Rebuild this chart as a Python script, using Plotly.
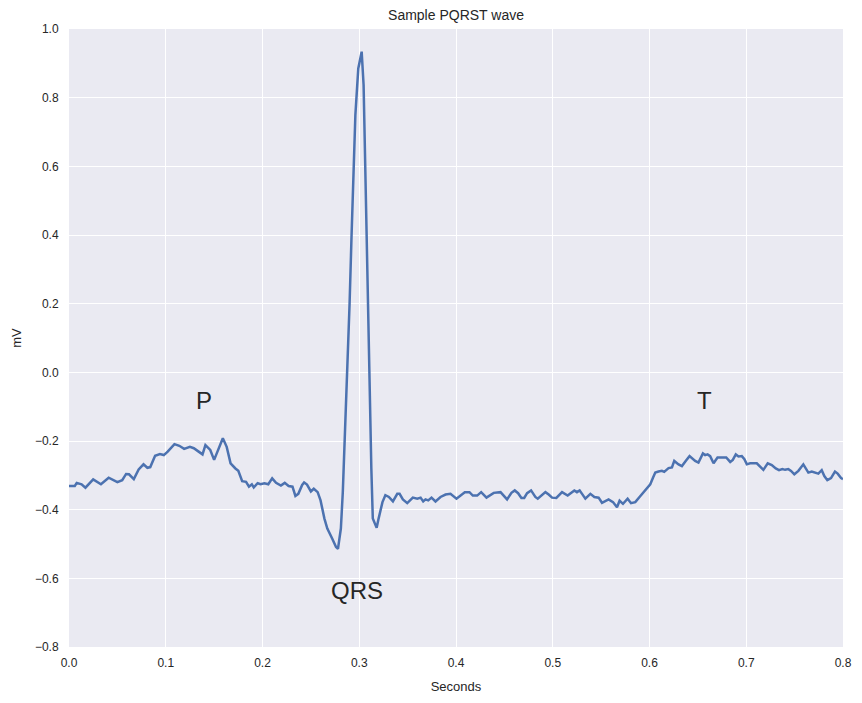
import plotly.graph_objects as go

# time (s) and voltage (mV)
seconds = [
    0.000, 0.006, 0.008, 0.013, 0.017, 0.025, 0.033, 0.041, 0.050, 0.055,
    0.059, 0.062, 0.067, 0.072, 0.077, 0.081, 0.084, 0.089, 0.094, 0.098,
    0.102, 0.109, 0.114, 0.119, 0.125, 0.129, 0.134, 0.138, 0.141, 0.146,
    0.150, 0.155, 0.159, 0.163, 0.167, 0.172, 0.175, 0.179, 0.183, 0.186,
    0.189, 0.191, 0.195, 0.198, 0.202, 0.206, 0.210, 0.214, 0.219, 0.223,
    0.227, 0.231, 0.234, 0.237, 0.241, 0.243, 0.246, 0.250, 0.253, 0.257,
    0.260, 0.264, 0.267, 0.272, 0.276, 0.278, 0.281, 0.283, 0.2877, 0.290,
    0.292, 0.2945, 0.296, 0.299, 0.3025, 0.3045, 0.306, 0.308, 0.310, 0.3125,
    0.314, 0.318, 0.320, 0.324, 0.327, 0.3306, 0.3348, 0.3393, 0.3417, 0.3451,
    0.3496, 0.3554, 0.360, 0.3634, 0.3661, 0.3685, 0.3713, 0.3747, 0.3788, 0.384,
    0.3892, 0.3943, 0.4005, 0.4046, 0.4091, 0.4139, 0.4174, 0.4219, 0.426, 0.4315,
    0.439, 0.446, 0.4528, 0.4573, 0.4607, 0.4642, 0.4676, 0.4705, 0.4735, 0.4776,
    0.482, 0.4845, 0.488, 0.4924, 0.4958, 0.4993, 0.5037, 0.5096, 0.5154, 0.5223,
    0.525, 0.5278, 0.5303, 0.5337, 0.5389, 0.543, 0.5474, 0.5509, 0.5577, 0.5623,
    0.5664, 0.5691, 0.5726, 0.5774, 0.5809, 0.5853, 0.5897, 0.5939, 0.5974, 0.6008,
    0.6036, 0.606, 0.6093, 0.6128, 0.6152, 0.6173, 0.6197, 0.6232, 0.6256, 0.630,
    0.6335, 0.638, 0.6414, 0.6472, 0.6506, 0.6552, 0.6575, 0.660, 0.6627, 0.6662,
    0.6703, 0.6748, 0.6793, 0.6834, 0.6861, 0.6892, 0.692, 0.6954, 0.6981, 0.7006,
    0.704, 0.7109, 0.7143, 0.7177, 0.7222, 0.7264, 0.7305, 0.7339, 0.7373, 0.7401,
    0.7435, 0.7463, 0.7497, 0.7539, 0.759, 0.7642, 0.7677, 0.7711, 0.7745, 0.778,
    0.7807, 0.7838, 0.7876, 0.7917, 0.7945, 0.798, 0.800,
]
mv = [
    -0.331, -0.331, -0.322, -0.326, -0.336, -0.312, -0.326, -0.307, -0.320, -0.314,
    -0.296, -0.297, -0.311, -0.283, -0.268, -0.278, -0.276, -0.243, -0.238, -0.241,
    -0.231, -0.209, -0.214, -0.223, -0.217, -0.221, -0.231, -0.239, -0.212, -0.226,
    -0.255, -0.221, -0.192, -0.217, -0.265, -0.280, -0.287, -0.317, -0.319, -0.333,
    -0.326, -0.335, -0.323, -0.326, -0.323, -0.326, -0.309, -0.322, -0.330, -0.322,
    -0.331, -0.333, -0.360, -0.354, -0.328, -0.321, -0.327, -0.347, -0.339, -0.349,
    -0.373, -0.426, -0.455, -0.484, -0.509, -0.514, -0.455, -0.349, 0.000, 0.200,
    0.394, 0.587, 0.750, 0.885, 0.934, 0.837, 0.606, 0.317, 0.027, -0.280,
    -0.426, -0.453, -0.426, -0.378, -0.358, -0.363, -0.376, -0.354, -0.354, -0.370,
    -0.381, -0.365, -0.368, -0.365, -0.376, -0.370, -0.373, -0.365, -0.376, -0.363,
    -0.356, -0.354, -0.368, -0.359, -0.349, -0.349, -0.359, -0.359, -0.349, -0.365,
    -0.351, -0.349, -0.370, -0.351, -0.344, -0.352, -0.366, -0.366, -0.352, -0.344,
    -0.363, -0.368, -0.360, -0.349, -0.356, -0.365, -0.366, -0.349, -0.359, -0.344,
    -0.349, -0.344, -0.354, -0.368, -0.354, -0.363, -0.365, -0.380, -0.370, -0.378,
    -0.393, -0.374, -0.383, -0.368, -0.381, -0.378, -0.363, -0.349, -0.335, -0.326,
    -0.307, -0.292, -0.289, -0.287, -0.290, -0.284, -0.279, -0.277, -0.258, -0.268,
    -0.273, -0.256, -0.244, -0.258, -0.263, -0.236, -0.241, -0.239, -0.244, -0.265,
    -0.248, -0.248, -0.248, -0.261, -0.255, -0.239, -0.245, -0.244, -0.253, -0.268,
    -0.265, -0.265, -0.275, -0.284, -0.265, -0.270, -0.280, -0.285, -0.282, -0.284,
    -0.282, -0.287, -0.297, -0.287, -0.268, -0.292, -0.289, -0.292, -0.295, -0.285,
    -0.302, -0.314, -0.308, -0.289, -0.295, -0.308, -0.311,
]

wave_labels = ["P", "QRS", "T"]
label_x = [0.1393, 0.298, 0.657]
label_y = [-0.082, -0.634, -0.082]

fig = go.Figure()
fig.add_trace(go.Scatter(
    x=seconds,
    y=mv,
    mode="lines",
    line=dict(color="#4C72B0", width=2.5),
    showlegend=False,
))

for text, x, y in zip(wave_labels, label_x, label_y):
    fig.add_annotation(
        x=x, y=y, text=text, showarrow=False,
        xanchor="center", yanchor="middle",
        font=dict(size=24, color="#262626"),
    )

# the page body adds an 8px offset, so margins are trimmed to match
fig.update_layout(
    width=862,
    height=703,
    margin=dict(l=61, r=27, t=21, b=64),
    paper_bgcolor="white",
    plot_bgcolor="#EAEAF2",
    font=dict(family="Liberation Sans, Arial, sans-serif", size=12, color="#262626"),
    title=dict(
        text="Sample PQRST wave",
        x=0.5, xref="paper", xanchor="center",
        y=0.990, yref="container", yanchor="middle",
        font=dict(size=14),
    ),
)
fig.update_xaxes(
    range=[0, 0.8],
    tick0=0, dtick=0.1, tickformat=".1f",
    showgrid=True, gridcolor="white", gridwidth=1.4,
    zeroline=False, showline=False, automargin=False,
    ticks="outside", ticklen=5, tickcolor="white",
    title=dict(text="Seconds", font=dict(size=13), standoff=12),
)
fig.update_yaxes(
    range=[-0.8, 1.0],
    tick0=-0.8, dtick=0.2, tickformat=".1f",
    showgrid=True, gridcolor="white", gridwidth=1.4,
    zeroline=False, showline=False, automargin=False,
    ticks="outside", ticklen=7, tickcolor="white",
    title=dict(text="mV", font=dict(size=13), standoff=10),
)

fig.write_html("out.html")
